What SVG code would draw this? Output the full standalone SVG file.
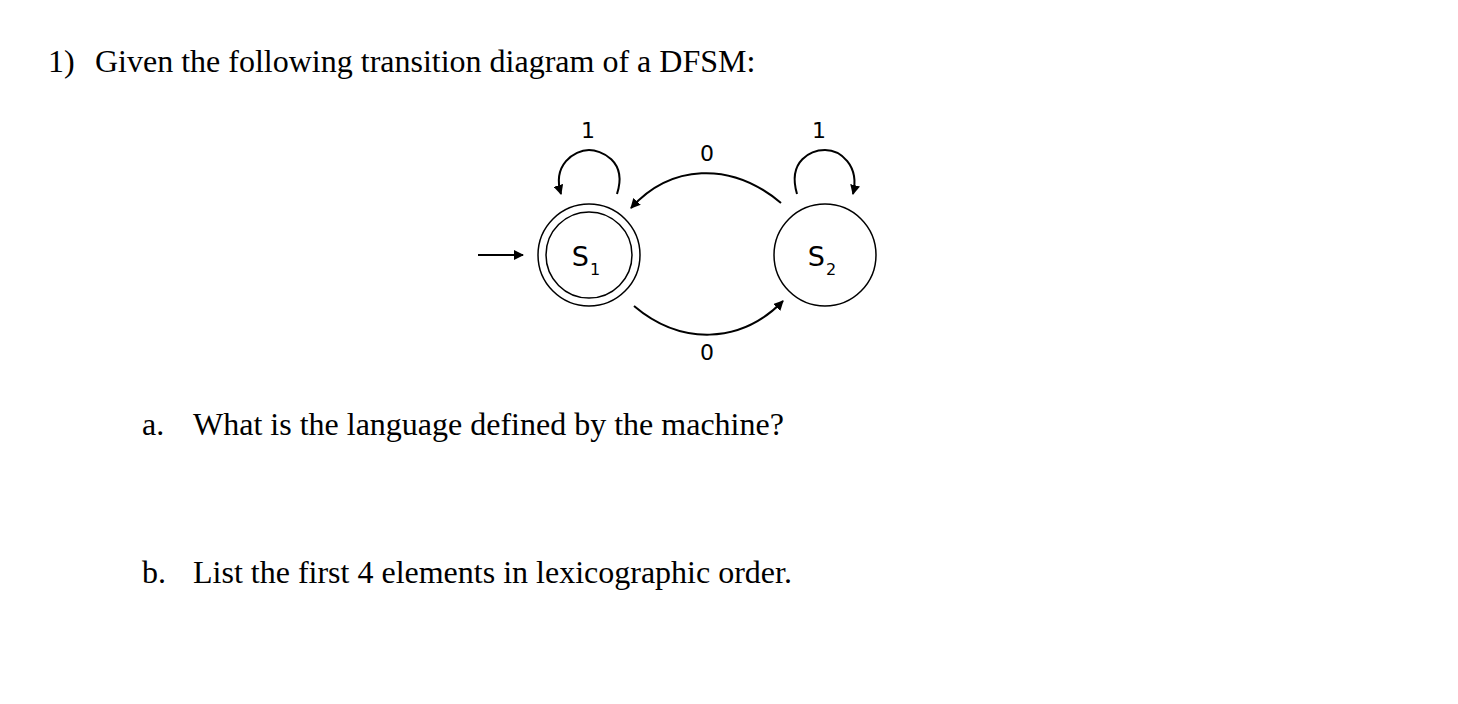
<svg xmlns="http://www.w3.org/2000/svg" width="1458" height="704" viewBox="0 0 1458 704">
<style>
.q{font-family:"Liberation Serif",serif;font-size:32px;fill:#000}
.d{font-family:"DejaVu Sans",sans-serif;fill:#000}
.c{fill:none;stroke:#000;stroke-width:1.5}
.e{fill:none;stroke:#000;stroke-width:2}
</style>
<defs><marker id="a" viewBox="0 0 10 10" refX="9" refY="5" markerWidth="5" markerHeight="5" orient="auto"><path d="M0,0L10,5L0,10z"/></marker></defs>
<rect width="1458" height="704" fill="#fff"/>
<text class="q" x="48" y="72">1)</text><text class="q" x="95" y="72">Given the following transition diagram of a DFSM:</text>
<text class="q" x="142" y="435">a.</text><text class="q" x="193" y="435">What is the language defined by the machine?</text>
<text class="q" x="142" y="583">b.</text><text class="q" x="193" y="583">List the first 4 elements in lexicographic order.</text>
<g id="s1"><circle class="c" cx="589" cy="255" r="51"/><circle class="c" cx="589" cy="255" r="43"/>
<text class="d" x="589" y="266" font-size="27" text-anchor="end">S</text><text class="d" x="590" y="275" font-size="16">1</text></g>
<g id="s2"><circle class="c" cx="825" cy="255" r="51"/>
<text class="d" x="825" y="266" font-size="27" text-anchor="end">S</text><text class="d" x="826" y="275" font-size="16">2</text></g>
<g id="connectors">
<path class="e" d="M478,255H523" marker-end="url(#a)"/>
<path class="e" d="M617,194C628,160 600,150 589,150C574,150 552,165 561,194" marker-end="url(#a)"/>
<path class="e" d="M797,194C787,160 812,150 825,150C840,150 860,165 853,194" marker-end="url(#a)"/>
<path class="e" d="M781,203C730,160 670,165 631,208" marker-end="url(#a)"/>
<path class="e" d="M634,306C680,345 740,345 783,301" marker-end="url(#a)"/>
</g>
<g id="labels" class="d" font-size="22" text-anchor="middle">
<text x="588" y="138">1</text><text x="819" y="138">1</text>
<text x="707" y="161">0</text><text x="707" y="360">0</text>
</g>
</svg>
